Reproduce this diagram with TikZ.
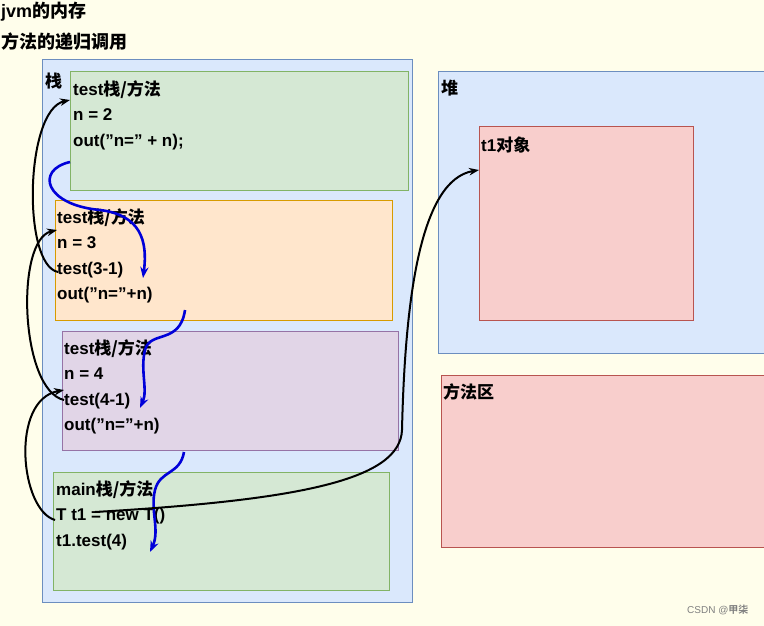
\documentclass[tikz,border=0pt]{standalone}
\usepackage{fontspec}
\setmainfont{Liberation Sans}
\newfontfamily\cjk{Noto Sans CJK SC Bold}
\newcommand{\zh}[1]{{\cjk #1}}
\usetikzlibrary{arrows.meta}
\begin{document}
\begin{tikzpicture}[x=1pt,y=-1pt,
  bx/.style={draw,line width=1pt},
  tx/.style={anchor=north west,align=left,font=\bfseries\fontsize{17}{25.5}\selectfont,inner sep=0pt},
  bl/.style={draw=blue!85!black,line width=2.6pt,-{Stealth[length=11pt]}},
  bk/.style={draw=black,line width=2pt,-{Stealth[length=10pt]}}]
\fill[yellow!8] (0,0) rectangle (764,626);
\useasboundingbox (0,0) rectangle (764,626);
\definecolor{sb}{HTML}{DAE8FC}\definecolor{sbd}{HTML}{6C8EBF}
\definecolor{gf}{HTML}{D5E8D4}\definecolor{gd}{HTML}{82B366}
\definecolor{of}{HTML}{FFE6CC}\definecolor{od}{HTML}{D79B00}
\definecolor{pf}{HTML}{E1D5E7}\definecolor{pd}{HTML}{9673A6}
\definecolor{rf}{HTML}{F8CECC}\definecolor{rd}{HTML}{B85450}
\node[tx,font=\bfseries\fontsize{18}{31}\selectfont] (title) at (1,2) {jvm\zh{的内存}\\\zh{方法的递归调用}};
\path[bx,fill=sb,draw=sbd] (42,60) rectangle (412,602);
\node[tx] (zhan) at (45,73) {\zh{栈}};
\path[bx,fill=gf,draw=gd] (70,72) rectangle (408,190);
\node[tx] (g1) at (73,80) {test\zh{栈/方法}\\n = 2\\out("n=" + n);};
\path[bx,fill=of,draw=od] (55,200) rectangle (392,320);
\node[tx] (o1) at (57,208) {test\zh{栈/方法}\\n = 3\\test(3-1)\\out("n="+n)};
\path[bx,fill=pf,draw=pd] (62,331) rectangle (398,450);
\node[tx] (p1) at (64,339) {test\zh{栈/方法}\\n = 4\\test(4-1)\\out("n="+n)};
\path[bx,fill=gf,draw=gd] (53,472) rectangle (389,590);
\node[tx] (g2) at (56,480) {main\zh{栈/方法}\\T t1 = new T()\\t1.test(4)};
\path[bx,fill=sb,draw=sbd] (438,72) rectangle (770,353);
\node[tx] (dui) at (441,80) {\zh{堆}};
\path[bx,fill=rf,draw=rd] (479,127) rectangle (693,320);
\node[tx] (obj) at (481,137) {t1\zh{对象}};
\path[bx,fill=rf,draw=rd] (441,375) rectangle (770,547);
\node[tx] (ff) at (443,383) {\zh{方法区}};
\node[anchor=south east,font=\fontsize{10}{11}\selectfont,text=gray] (wm) at (752,618) {CSDN @\zh{甲柒}};
\draw[bk] (58,272) .. controls (22,265) and (25,110) .. (70,100);
\draw[bk] (64,400) .. controls (20,390) and (15,240) .. (57,230);
\draw[bk] (55,520) .. controls (20,510) and (10,400) .. (64,390);
\draw[bl] (70,162) .. controls (35,170) and (45,205) .. (100,210) .. controls (140,215) and (148,240) .. (143,278);
\draw[bl] (185,310) .. controls (180,345) and (150,330) .. (145,350) .. controls (140,370) and (148,390) .. (140,408);
\draw[bl] (184,452) .. controls (180,475) and (160,470) .. (155,490) .. controls (150,510) and (160,530) .. (150,552);
\draw[bk] (95,512) .. controls (300,500) and (400,480) .. (402,430) .. controls (405,300) and (420,180) .. (479,170);
\end{tikzpicture}
\end{document}
